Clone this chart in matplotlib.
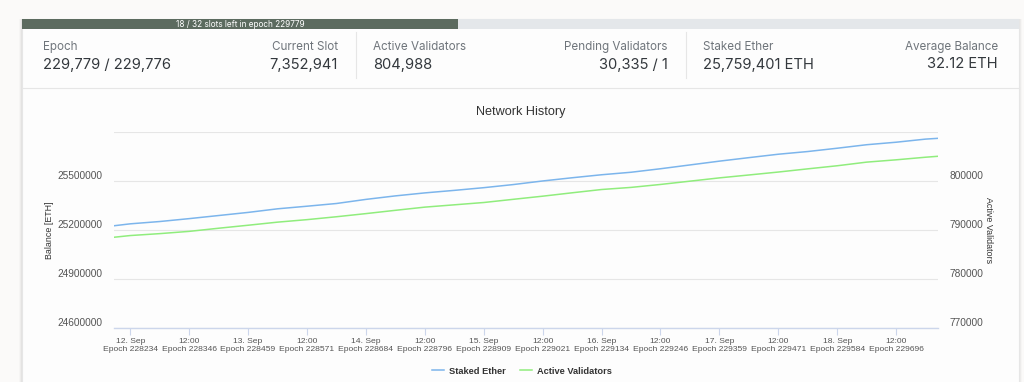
import numpy as np
import pandas as pd
import matplotlib
matplotlib.use("Agg")
import matplotlib.pyplot as plt
import matplotlib.dates as mdates
from matplotlib.patches import Rectangle
from matplotlib.transforms import ScaledTranslation

# header stats
stat_labels = ["Epoch", "Current Slot", "Active Validators", "Pending Validators", "Staked Ether", "Average Balance"]
stat_values = ["229,779 / 229,776", "7,352,941", "804,988", "30,335 / 1", "25,759,401 ETH", "32.12 ETH"]
progress_text = "18 / 32 slots left in epoch 229779"
slots_done = 14
slots_total = 32

# network history (~6h steps)
times = ["2023-09-11 20:41", "2023-09-12 00:00", "2023-09-12 06:00", "2023-09-12 12:00", "2023-09-12 18:00",
         "2023-09-13 00:00", "2023-09-13 06:00", "2023-09-13 12:00", "2023-09-13 18:00",
         "2023-09-14 00:00", "2023-09-14 06:00", "2023-09-14 12:00", "2023-09-14 18:00",
         "2023-09-15 00:00", "2023-09-15 06:00", "2023-09-15 12:00", "2023-09-15 18:00",
         "2023-09-16 00:00", "2023-09-16 06:00", "2023-09-16 12:00", "2023-09-16 18:00",
         "2023-09-17 00:00", "2023-09-17 06:00", "2023-09-17 12:00", "2023-09-17 18:00",
         "2023-09-18 00:00", "2023-09-18 06:00", "2023-09-18 12:00", "2023-09-18 18:00", "2023-09-18 20:28"]
staked_ether = [25225000, 25236800, 25250900, 25268600, 25287600,
                25306600, 25328600, 25344500, 25361100,
                25386200, 25407600, 25425900, 25441300,
                25457800, 25476800, 25498800, 25518400,
                25536800, 25552100, 25573500, 25596800,
                25620000, 25641400, 25662300, 25678800,
                25699000, 25720400, 25735700, 25754700, 25759401]
active_validators = [788490, 788840, 789230, 789690, 790330,
                     790940, 791570, 792080, 792670,
                     793310, 793980, 794630, 795100,
                     795570, 796220, 796860, 797550,
                     798220, 798650, 799250, 799920,
                     800590, 801180, 801780, 802430,
                     803060, 803800, 804270, 804800, 804988]

xtick_labels = ["12. Sep\nEpoch 228234", "12:00\nEpoch 228346", "13. Sep\nEpoch 228459", "12:00\nEpoch 228571",
                "14. Sep\nEpoch 228684", "12:00\nEpoch 228796", "15. Sep\nEpoch 228909", "12:00\nEpoch 229021",
                "16. Sep\nEpoch 229134", "12:00\nEpoch 229246", "17. Sep\nEpoch 229359", "12:00\nEpoch 229471",
                "18. Sep\nEpoch 229584", "12:00\nEpoch 229696"]
left_ticks = [24600000, 24900000, 25200000, 25500000, 25800000]
right_ticks = [770000, 780000, 790000, 800000, 810000]

W, H = 1024, 382
fig = plt.figure(figsize=(W / 100, H / 100), dpi=100)
fig.patch.set_facecolor("#fbfaf9")

# background layer in pixel coords
bg = fig.add_axes([0, 0, 1, 1])
bg.set_xlim(0, W)
bg.set_ylim(H, 0)
bg.axis("off")

# card + soft shadow
for i, a in enumerate([0.04, 0.03, 0.02]):
    bg.add_patch(Rectangle((22 - 1 - i, 19), 997 + 2 + 2 * i, 400, fc="#000000", alpha=a, ec="none", lw=0))
bg.add_patch(Rectangle((22, 19), 997, 400, fc="#fdfdfd", ec="#e6e6e6", lw=0.8))

# progress bar
bg.add_patch(Rectangle((22, 19), 997, 10, fc="#e4e7ea", ec="none"))
bg.add_patch(Rectangle((22, 19), 997 * slots_done / slots_total, 10, fc="#5c6b5f", ec="none"))
bg.text(240, 24.3, progress_text, color="white", fontsize=5.9, family="Inter", ha="center", va="center")

# stats row
bg.plot([22, 1019], [87.5, 87.5], color="#e6e6e6", lw=0.8)
for xd in [356, 686]:
    bg.plot([xd, xd], [32, 78], color="#e6e6e6", lw=0.8)

stat_x = [43, 338, 373, 668, 703, 998]
stat_ha = ["left", "right", "left", "right", "left", "right"]
for lab, val, x, ha in zip(stat_labels, stat_values, stat_x, stat_ha):
    bg.text(x, 47, lab, color="#6f757b", fontsize=8.4, family="Inter", ha=ha, va="center")
    bg.text(x, 64.5, val, color="#33383d", fontsize=10.6, family="Inter", ha=ha, va="center")

# title
bg.text(521, 112.5, "Network History", color="#333333", fontsize=9.1, family="Liberation Sans",
        ha="center", va="center")

# chart
x = pd.to_datetime(times)
ax = fig.add_axes([114 / W, (H - 328) / H, (937.7 - 114) / W, (328 - 131.7) / H])
ax.patch.set_alpha(0)
ax2 = ax.twinx()

l1, = ax.plot(x, staked_ether, color="#7cb5ec", lw=1.1, label="Staked Ether")
l2, = ax2.plot(x, active_validators, color="#90ed7d", lw=1.1, label="Active Validators")

ax.set_xlim(x[0], x[-1])
ax.set_ylim(left_ticks[0], left_ticks[-1])
ax2.set_ylim(right_ticks[0], right_ticks[-1])

ax.set_yticks(left_ticks)
ax.set_yticklabels([str(v) for v in left_ticks[:-1]] + [""])
ax2.set_yticks(right_ticks)
ax2.set_yticklabels([str(v) for v in right_ticks[:-1]] + [""])
ax.grid(axis="y", color="#e6e6e6", lw=0.8)

tick_pos = pd.date_range("2023-09-12 00:00", periods=len(xtick_labels), freq="12h")
ax.set_xticks(tick_pos)
ax.set_xticklabels(xtick_labels, fontsize=6.1, color="#555555", family="Liberation Sans", linespacing=1.25)
ax.tick_params(axis="x", length=5, width=0.8, color="#ccd6eb", pad=2)

for a in (ax, ax2):
    for s in a.spines.values():
        s.set_visible(False)
ax.spines["bottom"].set_visible(True)
ax.spines["bottom"].set_color("#ccd6eb")
ax.spines["bottom"].set_linewidth(1.0)

ax.tick_params(axis="y", length=0, pad=8, labelsize=7.3, labelcolor="#555555")
ax2.tick_params(axis="y", length=0, pad=8.3, labelsize=7.3, labelcolor="#555555")
ax2.tick_params(axis="x", length=0)
shift = ScaledTranslation(0, 5.5 / 100, fig.dpi_scale_trans)
for lab in ax.get_yticklabels() + ax2.get_yticklabels():
    lab.set_family("Liberation Sans")
    lab.set_transform(lab.get_transform() + shift)

bg.text(49, 230, "Balance [ETH]", rotation=90, fontsize=6.4, color="#333333", family="Liberation Sans",
        ha="center", va="center")
bg.text(989, 230, "Active Validators", rotation=270, fontsize=6.4, color="#333333", family="Liberation Sans",
        ha="center", va="center")

leg = fig.legend([l1, l2], ["Staked Ether", "Active Validators"], loc="center", ncol=2,
                 bbox_to_anchor=(522 / W, 1 - 371 / H), frameon=False, handlelength=1.3,
                 columnspacing=1.6, handletextpad=0.5,
                 prop={"family": "Liberation Sans", "weight": "bold", "size": 6.7})
for t in leg.get_texts():
    t.set_color("#333333")

fig.savefig("out.png", dpi=100, facecolor=fig.get_facecolor())
